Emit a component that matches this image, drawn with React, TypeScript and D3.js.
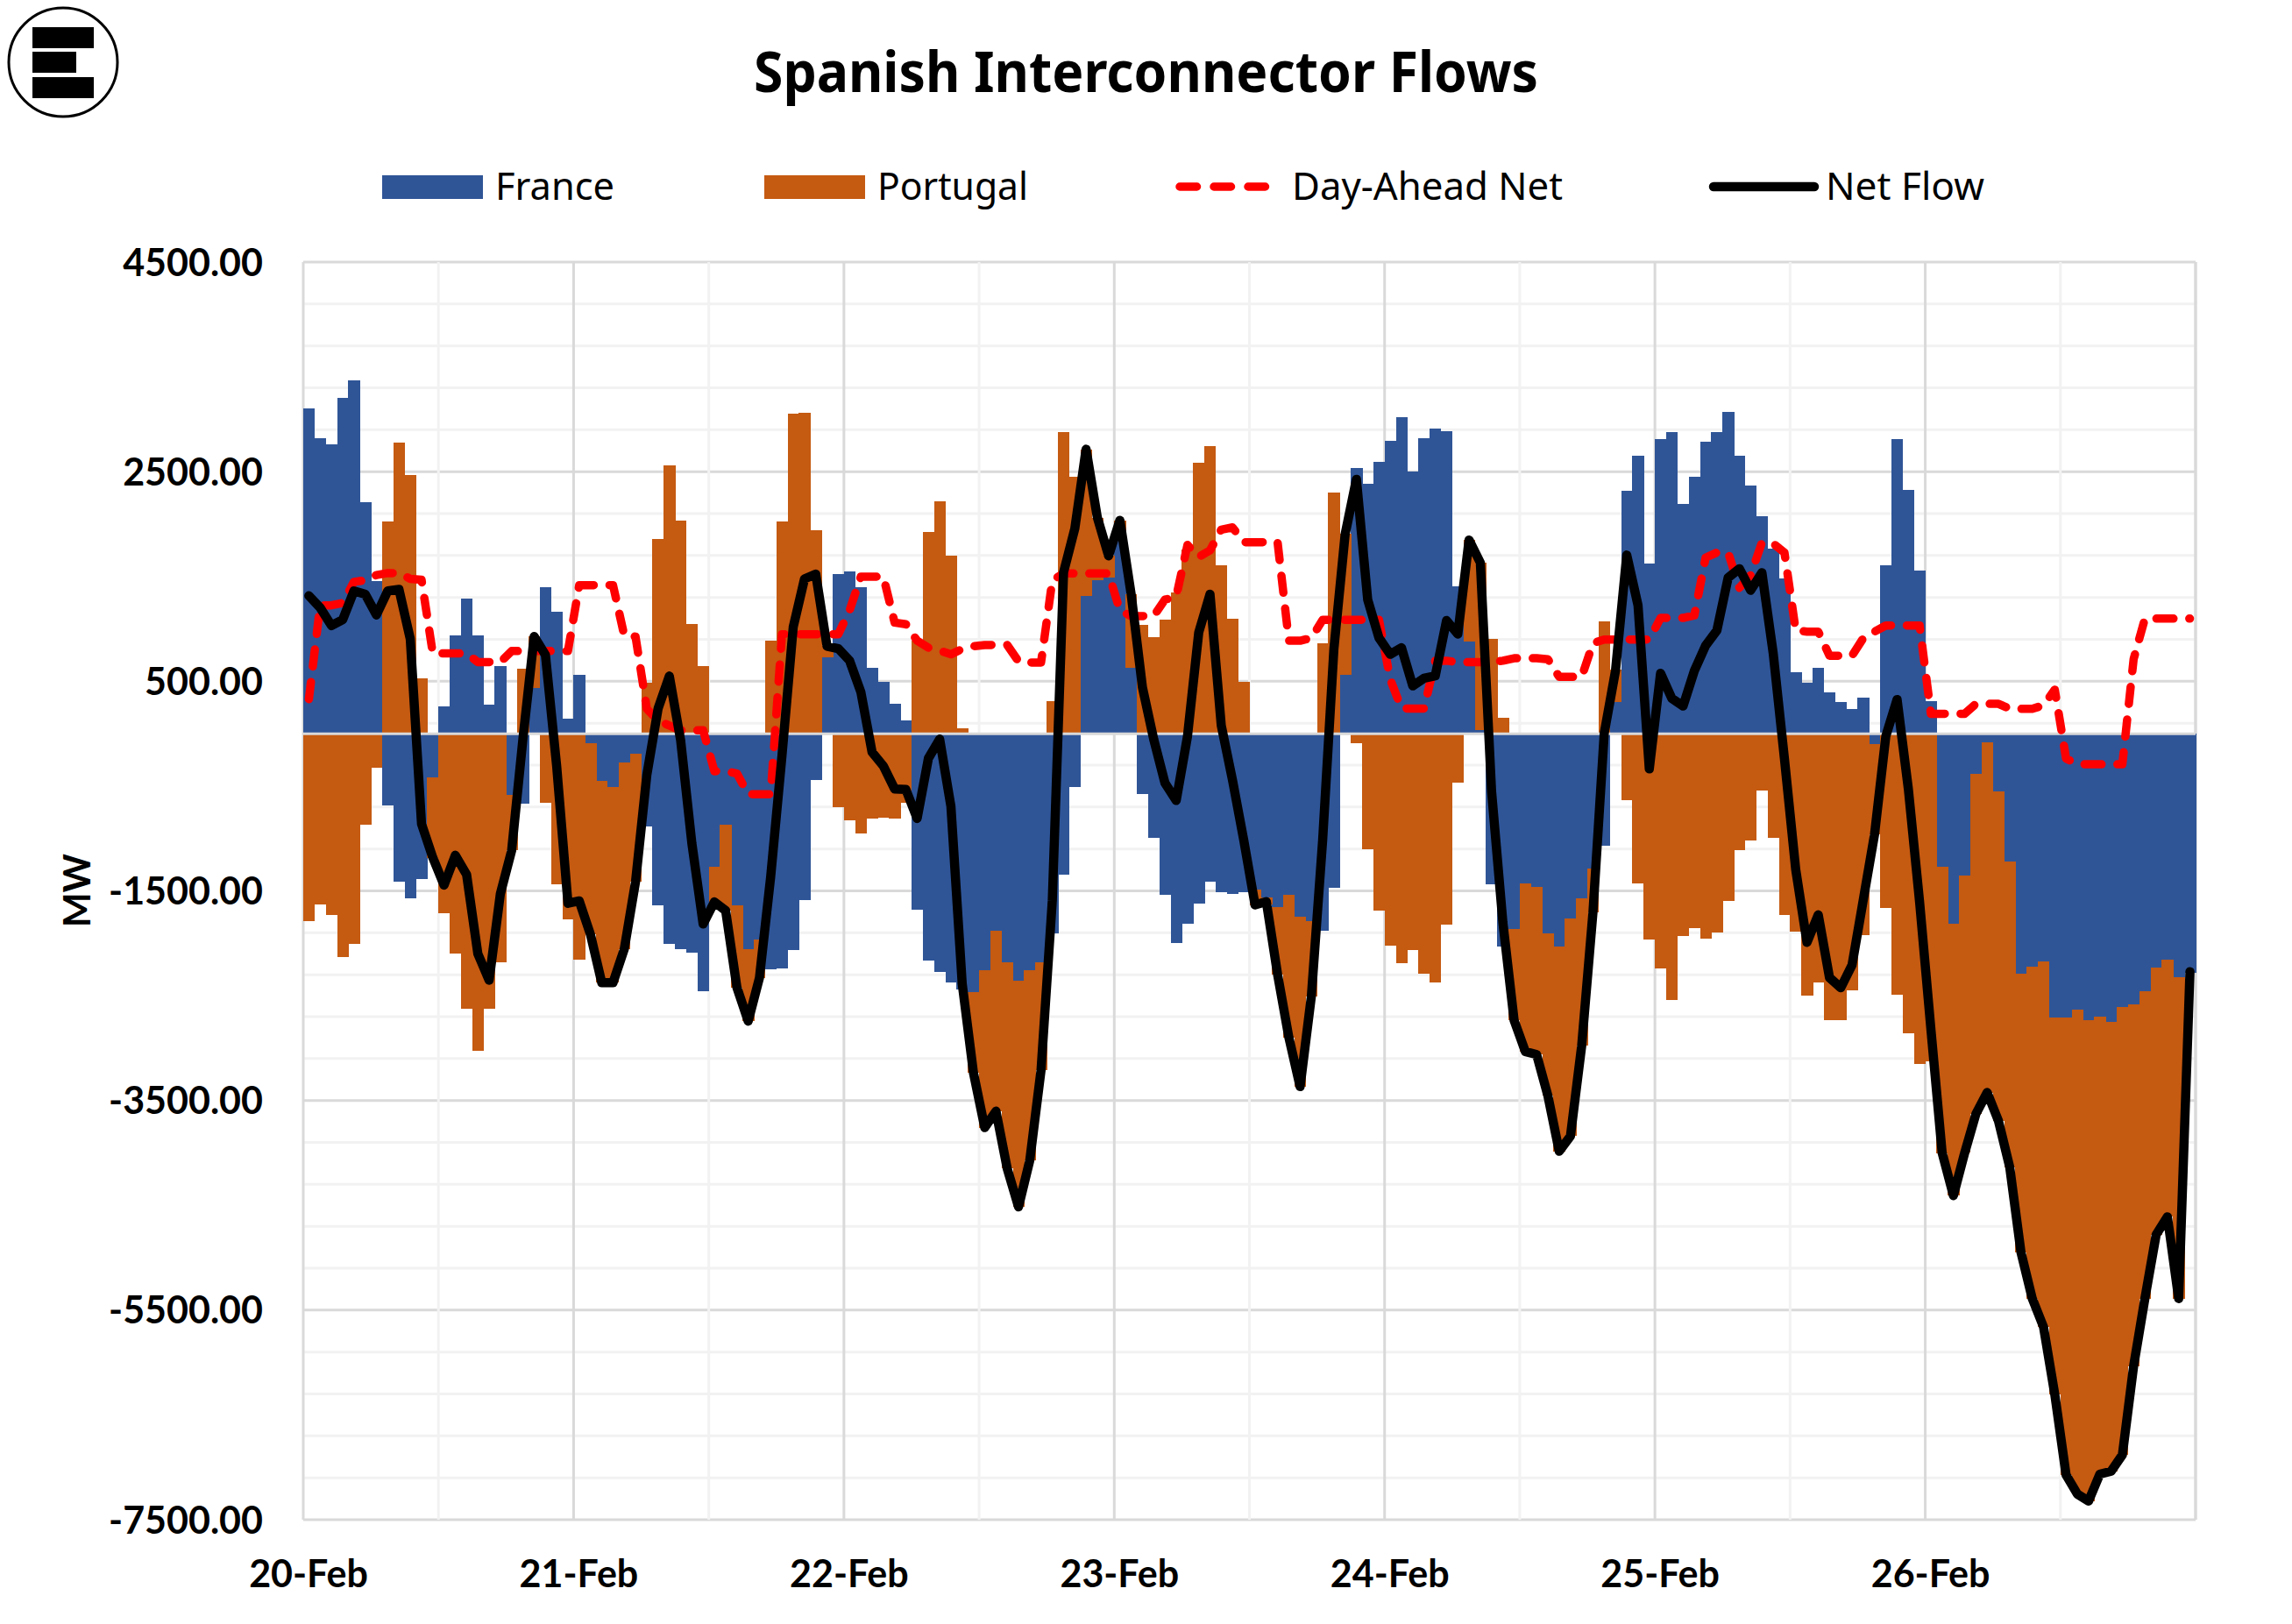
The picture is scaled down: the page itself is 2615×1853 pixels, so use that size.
import * as d3 from "d3";

const WIDTH = 2615;
const HEIGHT = 1853;
const PLOT = { left: 346, right: 2505, top: 299, bottom: 1734 };

const dayLabels = ["20-Feb", "21-Feb", "22-Feb", "23-Feb", "24-Feb", "25-Feb", "26-Feb"];
const yLabels = [4500, 2500, 500, -1500, -3500, -5500, -7500];
const HOURS_PER_DAY = 24;

// hourly values in MW
const france = [
  3105, 2821, 2761, 3206, 3371, 2211, 1459, -683, -1413, -1569, -1385, -417, 261, 940, 1289, 940, 280, 647, -587, -670, 440, 1399, 1165, 147,
  564, -92, -450, -505, -275, -188, -885, -1642, -2009, -2055, -2092, -2459, -1266, -872, -1642, -2055, -1963, -2252, -2238, -2064, -1587, -440, 725, 1523,
  1550, 1394, 632, 496, 287, 130, -1681, -2166, -2271, -2375, -2438, -2464, -2255, -1879, -2182, -2354, -2255, -2182, -1905, -1347, -512, 1315, 1462, 1488,
  1900, 632, -574, -992, -1540, -1999, -1811, -1618, -1409, -1514, -1529, -1514, -1488, -1566, -1655, -1540, -1749, -1790, -1879, -1472, 564, 2532, 2386, 2594,
  2793, 3017, 2501, 2818, 2914, 2890, 1402, 878, 34, -1440, -2030, -1862, -1426, -1464, -1906, -2030, -1762, -1570, -1286, -1066, 298, 2318, 2654, 1622,
  2808, 2875, 2194, 2448, 2789, 2880, 3067, 2654, 2371, 2074, 1766, 1483, 586, 485, 629, 394, 302, 235, 346, -101, 1608, 2808, 2323, 1555,
  312, -1270, -1810, -1356, -386, -81, -549, -1220, -2292, -2224, -2170, -2712, -2712, -2631, -2732, -2698, -2753, -2604, -2583, -2461, -2231, -2156, -2325, -2278,
];

const portugal = [
  -1789, -1628, -1734, -2128, -2009, -872, -326, 2027, 2780, 2468, 527, -766, -1711, -2101, -2628, -3027, -2628, -2183, -527, 619, 487, -656, -1436, -1771,
  -2160, -1825, -1926, -1871, -1780, -1225, 490, 1858, 2564, 2037, 1050, 647, -339, -816, -780, -688, -367, 890, 2027, 3055, 3064, 1945, 110, -702,
  -826, -955, -809, -804, -814, -663, 887, 1921, 2213, 1702, 52, -773, -1503, -1723, -1968, -2161, -1817, -1028, 313, 2881, 2453, 1399, 600, 209,
  136, 699, 1034, 924, 1086, 1347, 1759, 2584, 2740, 1603, 1096, 496, -146, -60, -642, -1357, -1618, -715, 861, 2297, 1341, -94, -1101, -1686,
  -2025, -2192, -2064, -2294, -2376, -1824, -466, 970, 1598, 902, 154, -874, -1608, -1598, -1550, -1954, -2078, -1406, -418, 1070, 312, -634, -1426, -1968,
  -2242, -2544, -1930, -1853, -1958, -1896, -1598, -1114, -1022, -542, -994, -1728, -1886, -2501, -2376, -2731, -2731, -2453, -1925, -859, -1666, -2491, -2856, -3154,
  -3130, -2732, -2597, -2644, -3241, -3343, -3146, -2916, -2657, -3166, -3491, -3593, -4360, -4624, -4590, -4367, -4285, -4278, -3451, -2929, -2549, -2454, -3065, 0,
];

const netFlow = [
  1316, 1202, 1032, 1087, 1362, 1330, 1133, 1362, 1376, 904, -862, -1183, -1445, -1160, -1344, -2100, -2353, -1527, -1115, -51, 927, 752, -312, -1619,
  -1596, -1917, -2376, -2376, -2055, -1413, -395, 239, 550, -60, -1046, -1816, -1605, -1688, -2422, -2743, -2330, -1362, -211, 1018, 1477, 1523, 835, 812,
  697, 399, -177, -308, -527, -533, -809, -235, -52, -694, -2386, -3236, -3758, -3602, -4150, -4515, -4072, -3210, -1592, 1540, 1958, 2714, 2062, 1697,
  2036, 1331, 444, -52, -470, -637, -26, 966, 1331, 78, -444, -1018, -1634, -1603, -2297, -2897, -3367, -2505, -1018, 809, 1905, 2427, 1279, 914,
  757, 820, 456, 528, 552, 1080, 950, 1848, 1632, -552, -1800, -2736, -3034, -3062, -3456, -3984, -3840, -2976, -1704, 4, 600, 1704, 1224, -336,
  576, 336, 264, 600, 840, 984, 1488, 1574, 1368, 1536, 768, -240, -1296, -1992, -1728, -2328, -2424, -2208, -1584, -960, -24, 326, -528, -1608,
  -2818, -4000, -4407, -4000, -3627, -3424, -3695, -4136, -4949, -5390, -5661, -6305, -7072, -7255, -7322, -7065, -7038, -6882, -6034, -5390, -4780, -4610, -5390, -2271,
];

const dayAhead = [
  330, 1225, 1225, 1247, 1449, 1463, 1514, 1532, 1532, 1477, 1468, 766, 766, 766, 766, 683, 683, 683, 789, 789, 789, 789, 789, 789,
  1417, 1417, 1417, 1417, 935, 926, 238, 124, 78, 32, 32, 32, -358, -358, -380, -578, -578, -578, 949, 949, 949, 949, 949, 949,
  1175, 1498, 1498, 1498, 1060, 1044, 887, 820, 793, 757, 809, 835, 846, 846, 846, 689, 679, 679, 1462, 1529, 1529, 1529, 1529, 1529,
  1175, 1122, 1122, 1122, 1279, 1305, 1801, 1686, 1749, 1947, 1968, 1827, 1827, 1827, 1827, 887, 887, 913, 1086, 1086, 1086, 1086, 1086, 1086,
  520, 240, 240, 240, 696, 696, 682, 682, 682, 682, 696, 720, 720, 720, 710, 542, 542, 542, 864, 898, 898, 898, 898, 898,
  1104, 1104, 1104, 1128, 1680, 1728, 1728, 1392, 1512, 1824, 1814, 1728, 984, 974, 974, 744, 744, 744, 912, 974, 1032, 1032, 1032, 1032,
  190, 190, 190, 190, 285, 285, 285, 237, 237, 237, 271, 420, -237, -292, -292, -292, -292, -292, 712, 1098, 1098, 1098, 1098, 1098,
];

const BLUE = "#2F5597";
const ORANGE = "#C55A11";
const RED = "#FF0000";
const GRID_MAJOR = "#D9D9D9";
const GRID_MINOR = "#F2F2F2";
const LABEL_FONT = "Lato, sans-serif";
const HEAD_FONT = "'Noto Sans', sans-serif";

const hours = d3.range(france.length);

const x = d3.scaleBand<number>().domain(hours).range([PLOT.left, PLOT.right]).padding(0);
const y = d3.scaleLinear().domain([-7500, 4500]).range([PLOT.bottom, PLOT.top]);

const rows = hours.map((h) => ({ France: france[h], Portugal: portugal[h] }));
const stacked = d3
  .stack<{ France: number; Portugal: number }>()
  .keys(["France", "Portugal"])
  .offset(d3.stackOffsetDiverging)(rows as any);

const lineGen = d3
  .line<number>()
  .x((_, i) => (x(i) ?? 0) + x.bandwidth() / 2)
  .y((d) => y(d));

const yGrid = d3.range(-7500, 4501, 400);
const xGrid = d3.range(0, france.length + 1, HOURS_PER_DAY / 2);
const xAt = (h: number) => PLOT.left + (h * (PLOT.right - PLOT.left)) / france.length;

export default function App() {
  return (
    <svg
      width={WIDTH}
      height={HEIGHT}
      viewBox={`0 0 ${WIDTH} ${HEIGHT}`}
      style={{ position: "absolute", left: 0, top: 0, display: "block", background: "#fff" }}
    >
      {/* logo */}
      <circle cx={72} cy={71} r={62} fill="#fff" stroke="#000" strokeWidth={3} />
      <rect x={37} y={31} width={70} height={24} fill="#000" />
      <rect x={37} y={59} width={50} height={24} fill="#000" />
      <rect x={37} y={88} width={70} height={24} fill="#000" />

      <text
        x={860}
        y={105}
        textLength={895}
        lengthAdjust="spacingAndGlyphs"
        fontFamily={HEAD_FONT}
        fontWeight={700}
        fontSize={65}
        fill="#000"
      >
        Spanish Interconnector Flows
      </text>

      {/* legend */}
      <g fontFamily={HEAD_FONT} fontSize={44} fill="#000">
        <rect x={436} y={200} width={115} height={27} fill={BLUE} />
        <text x={565} y={228} textLength={136} lengthAdjust="spacingAndGlyphs">France</text>
        <rect x={872} y={200} width={115} height={27} fill={ORANGE} />
        <text x={1001} y={228} textLength={172} lengthAdjust="spacingAndGlyphs">Portugal</text>
        <line x1={1346} x2={1446} y1={213} y2={213} stroke={RED} strokeWidth={9.5} strokeLinecap="round" strokeDasharray="19.5 19.5" />
        <text x={1474} y={228} textLength={309} lengthAdjust="spacingAndGlyphs">Day-Ahead Net</text>
        <line x1={1955} x2={2070} y1={213} y2={213} stroke="#000" strokeWidth={10.5} strokeLinecap="round" />
        <text x={2083} y={228} textLength={181} lengthAdjust="spacingAndGlyphs">Net Flow</text>
      </g>

      {/* grid */}
      {yGrid.map((v, i) => (
        <line
          key={v}
          x1={PLOT.left}
          x2={PLOT.right}
          y1={y(v)}
          y2={y(v)}
          stroke={i % 5 === 0 ? GRID_MAJOR : GRID_MINOR}
          strokeWidth={3}
        />
      ))}
      {xGrid.map((h, i) => (
        <line
          key={h}
          x1={xAt(h)}
          x2={xAt(h)}
          y1={PLOT.top}
          y2={PLOT.bottom}
          stroke={i % 2 === 0 ? GRID_MAJOR : GRID_MINOR}
          strokeWidth={3}
        />
      ))}
      <line x1={PLOT.right} x2={PLOT.right} y1={PLOT.top} y2={PLOT.bottom} stroke={GRID_MAJOR} strokeWidth={3} />

      {/* stacked columns */}
      {stacked.map((series) => (
        <g key={series.key} fill={series.key === "France" ? BLUE : ORANGE} shapeRendering="crispEdges">
          {series.map((d, i) => (
            <rect
              key={i}
              x={x(i)}
              width={x.bandwidth() + 0.5}
              y={y(Math.max(d[0], d[1]))}
              height={Math.abs(y(d[0]) - y(d[1]))}
            />
          ))}
        </g>
      ))}

      {/* zero axis */}
      <line x1={PLOT.left} x2={PLOT.right} y1={y(0)} y2={y(0)} stroke={GRID_MAJOR} strokeWidth={3} />

      <path
        d={lineGen(dayAhead) ?? ""}
        fill="none"
        stroke={RED}
        strokeWidth={9.5}
        strokeLinecap="round"
        strokeLinejoin="round"
        strokeDasharray="19.5 18"
      />
      <path
        d={lineGen(netFlow) ?? ""}
        fill="none"
        stroke="#000"
        strokeWidth={10.5}
        strokeLinecap="round"
        strokeLinejoin="round"
      />

      {/* axis labels */}
      <g fontFamily={LABEL_FONT} fontWeight={700} fontSize={43} fill="#000">
        {yLabels.map((v) => (
          <text key={v} x={300} y={y(v) + 15.5} textAnchor="end">
            {v.toFixed(2)}
          </text>
        ))}
        {dayLabels.map((d, i) => (
          <text key={d} x={xAt(i * HOURS_PER_DAY) + 6} y={1811} textAnchor="middle">
            {d}
          </text>
        ))}
        <text transform="translate(103,1016) rotate(-90)" textAnchor="middle" fontSize={42}>
          MW
        </text>
      </g>
    </svg>
  );
}
